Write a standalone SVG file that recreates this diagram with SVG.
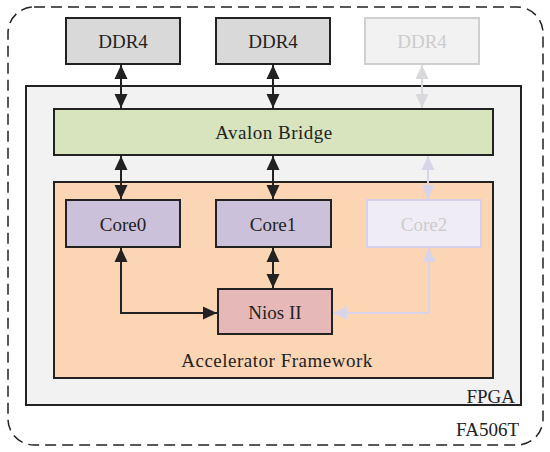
<svg xmlns="http://www.w3.org/2000/svg" width="550" height="452" viewBox="0 0 550 452">
<style>
text{font-family:"Liberation Serif","Times New Roman",serif;font-size:19px;fill:#222;text-anchor:middle;dominant-baseline:central}
.r{text-anchor:end}
.dark{stroke:#222;stroke-width:2}
.c{fill:none;stroke-width:2}
</style>
<defs>
<marker id="ab" markerUnits="userSpaceOnUse" markerWidth="15" markerHeight="15" viewBox="0 0 15 15" refX="14" refY="7.5" orient="auto-start-reverse"><path d="M0,1 L14,7.5 L0,14 Z" fill="#222"/></marker>
<marker id="ag" markerUnits="userSpaceOnUse" markerWidth="15" markerHeight="15" viewBox="0 0 15 15" refX="14" refY="7.5" orient="auto-start-reverse"><path d="M0,1 L14,7.5 L0,14 Z" fill="#d9d9dd"/></marker>
<marker id="al" markerUnits="userSpaceOnUse" markerWidth="15" markerHeight="15" viewBox="0 0 15 15" refX="14" refY="7.5" orient="auto-start-reverse"><path d="M0,1 L14,7.5 L0,14 Z" fill="#d8d4ea"/></marker>
</defs>
<g id="fa506t">
<rect x="8" y="7" width="535" height="438" rx="26" fill="#fff" stroke="#222" stroke-width="1.5" stroke-dasharray="11,6"/>
<text x="519" y="429" class="r">FA506T</text>
</g>
<g id="fpga">
<rect x="26" y="86" width="495" height="319" fill="#f2f2f2" stroke="#222" stroke-width="2"/>
<text x="515" y="396" class="r">FPGA</text>
</g>
<g id="ddr4-0"><rect x="66" y="18" width="114" height="46" fill="#d9d9d9" class="dark"/><text x="123" y="41">DDR4</text></g>
<g id="ddr4-1"><rect x="216" y="18" width="114" height="46" fill="#d9d9d9" class="dark"/><text x="273" y="41">DDR4</text></g>
<g id="ddr4-2"><rect x="365" y="18" width="114" height="46" fill="#f2f2f2" stroke="#cfcfcf" stroke-width="2"/><text x="422" y="41" style="fill:#cccccc">DDR4</text></g>
<g id="avalon"><rect x="54" y="109" width="439" height="46" fill="#d7e4bd" class="dark"/><text x="274" y="132" style="letter-spacing:0.5px">Avalon Bridge</text></g>
<g id="accel"><rect x="54" y="182" width="439" height="196" fill="#fcd5b5" class="dark"/><text x="277" y="360" style="letter-spacing:0.5px">Accelerator Framework</text></g>
<g id="core0"><rect x="66" y="200" width="114" height="47" fill="#ccc1da" class="dark"/><text x="123" y="224">Core0</text></g>
<g id="core1"><rect x="216" y="200" width="115" height="47" fill="#ccc1da" class="dark"/><text x="273" y="224">Core1</text></g>
<g id="core2"><rect x="367" y="200" width="114" height="47" fill="#efecf5" stroke="#d6d0e8" stroke-width="2"/><text x="424" y="224" style="fill:#cccccc">Core2</text></g>
<g id="nios"><rect x="218" y="289" width="114" height="45" fill="#e6b9b8" class="dark"/><text x="275" y="312">Nios II</text></g>
<g id="connectors">
<line x1="121" y1="65" x2="121" y2="108" class="c" stroke="#222" marker-start="url(#ab)" marker-end="url(#ab)"/>
<line x1="273" y1="65" x2="273" y2="108" class="c" stroke="#222" marker-start="url(#ab)" marker-end="url(#ab)"/>
<line x1="422" y1="65" x2="422" y2="108" class="c" stroke="#d9d9dd" marker-start="url(#ag)" marker-end="url(#ag)"/>
<line x1="121" y1="156" x2="121" y2="199" class="c" stroke="#222" marker-start="url(#ab)" marker-end="url(#ab)"/>
<line x1="273" y1="156" x2="273" y2="199" class="c" stroke="#222" marker-start="url(#ab)" marker-end="url(#ab)"/>
<line x1="428" y1="156" x2="428" y2="199" class="c" stroke="#d8d4ea" marker-start="url(#al)" marker-end="url(#al)"/>
<polyline points="121,248 121,313 217,313" class="c" stroke="#222" marker-start="url(#ab)" marker-end="url(#ab)"/>
<line x1="273" y1="248" x2="273" y2="288" class="c" stroke="#222" marker-start="url(#ab)" marker-end="url(#ab)"/>
<polyline points="429,248 429,313 333,313" class="c" stroke="#d8d4ea" marker-start="url(#al)" marker-end="url(#al)"/>
</g>
</svg>
